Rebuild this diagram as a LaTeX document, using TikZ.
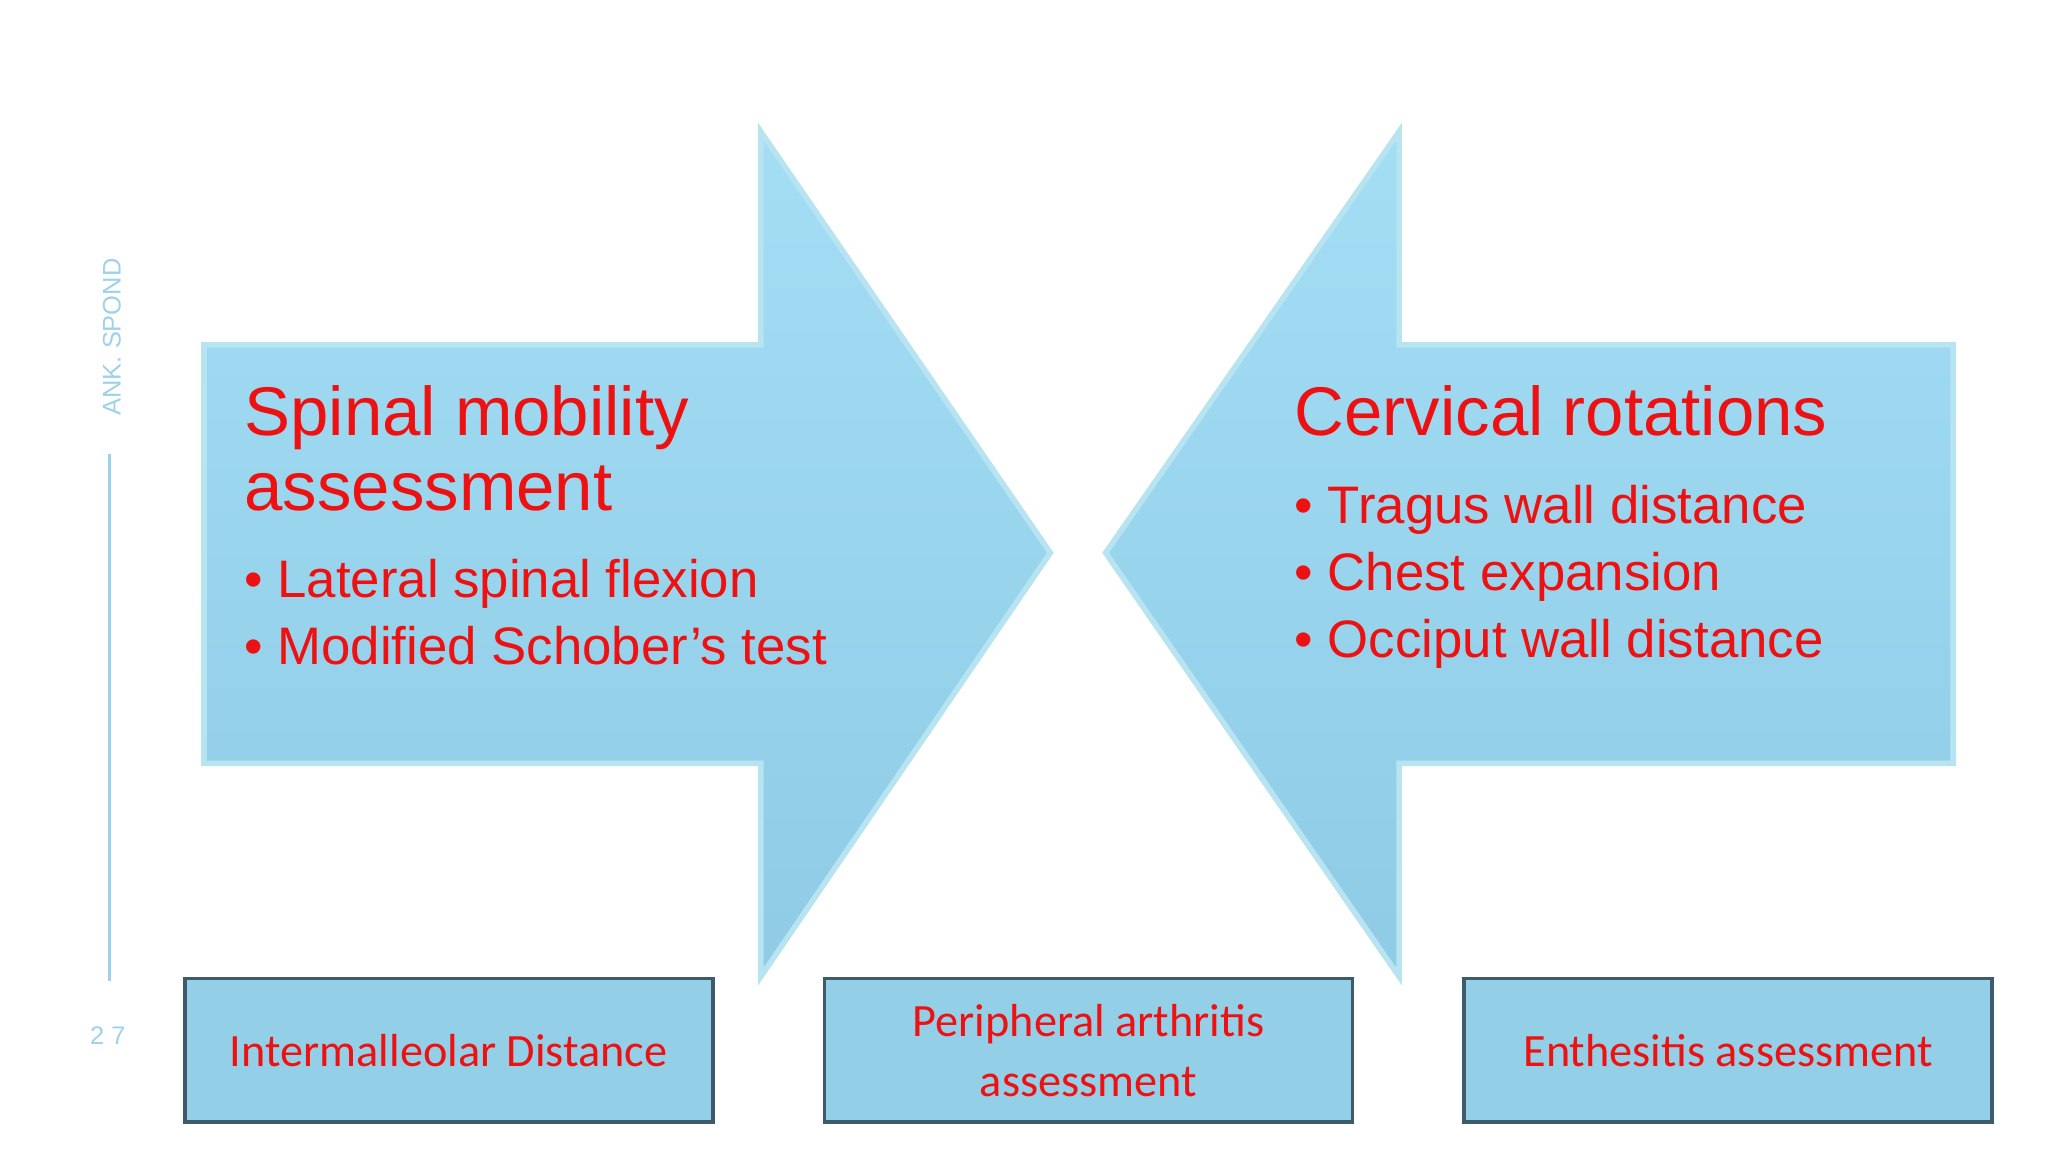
\documentclass[tikz,border=0pt]{standalone}
\usepackage{fontspec}
\setmainfont{Liberation Sans}
\newfontfamily\calfont{Carlito}
\begin{document}
\begin{tikzpicture}[x=0.01cm,y=-0.01cm]
\definecolor{redt}{HTML}{EE1111}
\definecolor{sideb}{HTML}{9ED2EA}
\definecolor{toparr}{HTML}{A3DEF5}
\definecolor{botarr}{HTML}{90CBE6}
\definecolor{edgearr}{HTML}{B8E4F2}
\definecolor{boxf}{HTML}{94CFE8}
\definecolor{boxd}{HTML}{3F5A6A}
\tikzset{arrowshape/.style={top color=toparr, bottom color=botarr, draw=edgearr, line width=1.2pt},
 bigt/.style={text=redt, inner sep=0pt, font=\fontsize{14.9}{16.2}\selectfont, anchor=north west, align=left},
 bult/.style={text=redt, inner sep=0pt, font=\fontsize{11.4}{14.5}\selectfont, anchor=north west, align=left},
 bbox/.style={draw=boxd, line width=0.8pt, fill=boxf, minimum width=4.01cm, minimum height=1.09cm, text=redt, font=\calfont\fontsize{10}{13}\selectfont, align=center}}
\useasboundingbox (0,0) rectangle (1556,875);
\fill[white] (0,0) rectangle (1556,875);
\path[arrowshape] (155,262) -- (578,262) -- (578,100) -- (798,420) -- (578,742) -- (578,580) -- (155,580) -- cycle;
\path[arrowshape] (1484,262) -- (1063,262) -- (1063,100) -- (840,420) -- (1063,742) -- (1063,580) -- (1484,580) -- cycle;
\node[bigt] (t1) at (185,292) {Spinal mobility\\assessment};
\node[bult] (b1) at (185,424) {\textbullet\ Lateral spinal flexion\\\textbullet\ Modified Schober\symbol{39}s test};
\node[bigt] (t2) at (983,292) {Cervical rotations};
\node[bult] (b2) at (983,368) {\textbullet\ Tragus wall distance\\\textbullet\ Chest expansion\\\textbullet\ Occiput wall distance};
\node[bbox] (n1) at (341,798) {Intermalleolar Distance};
\node[bbox] (n2) at (827,798) {Peripheral arthritis\\assessment};
\node[bbox] (n3) at (1313,798) {Enthesitis assessment};
\node[rotate=90, text=sideb, font=\fontsize{5.5}{6}\selectfont] (s1) at (85,256) {ANK. SPOND};
\node[text=sideb, font=\fontsize{5.5}{6}\selectfont] (s2) at (82,787) {2 7};
\coordinate (l1) at (83,345); \coordinate (l2) at (83,745);
\draw[sideb, line width=0.6pt] (l1) -- (l2);
\end{tikzpicture}
\end{document}
